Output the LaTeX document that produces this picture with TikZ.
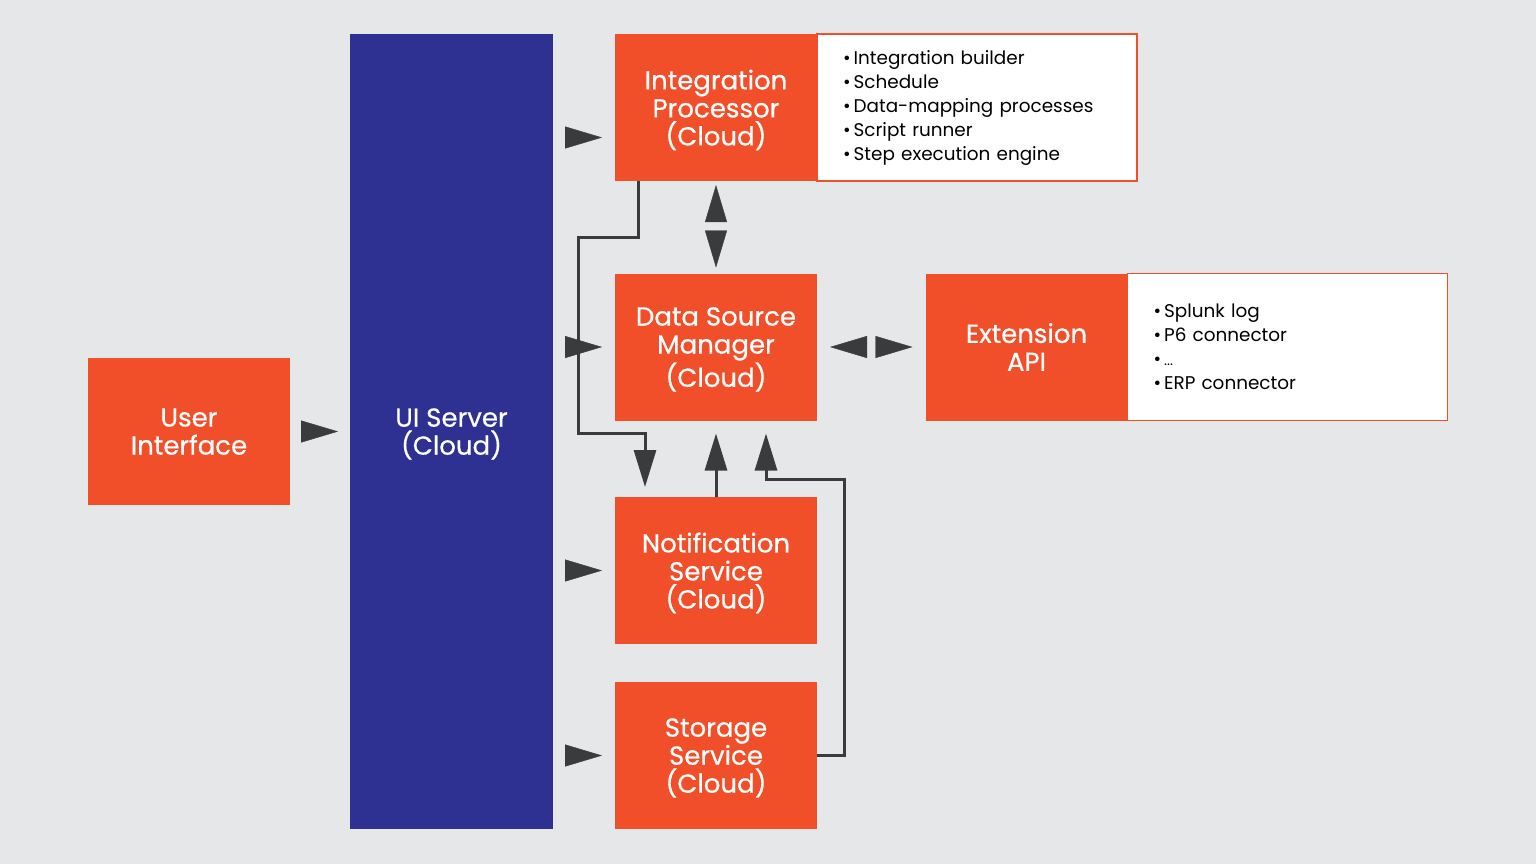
\documentclass[tikz,border=0pt]{standalone}
\usepackage{fontspec}
\setmainfont{Poppins}
\newfontfamily\boxfont{Poppins}[FakeBold=0.6]
\usetikzlibrary{arrows.meta,positioning,calc}
\definecolor{bg}{HTML}{E6E7E9}
\definecolor{orng}{HTML}{F04F2A}
\definecolor{navy}{HTML}{2E3192}
\definecolor{darkln}{HTML}{3A3B3D}
\newcommand{\itm}{\textbullet\,}

\begin{document}
\begin{tikzpicture}[x=0.5pt,y=-0.5pt,
  box/.style={fill=orng,text=white,minimum width=101pt,minimum height=73.5pt,inner sep=0pt,outer sep=0pt,text depth=0pt,align=center,font=\boxfont\fontsize{13}{14}\selectfont},
  lst/.style={fill=white,draw=orng,line width=0.75pt,minimum height=73.5pt,inner xsep=13pt,outer sep=0pt,text width=134pt,align=left,font=\fontsize{9.2}{12}\selectfont},
  tip/.style={darkln,line width=0.2pt,-{Triangle[length=18.5pt,width=11pt]}},
  conn/.style={darkln,line width=1.5pt,-{Triangle[length=18.5pt,width=11pt]}}]
\fill[bg] (0,0) rectangle (1536,864);
% boxes
\node[box] (ui) at (189,431.5) {User\\Interface};
\node[box,fill=navy,minimum width=101.5pt,minimum height=397.5pt] (srv) at (451.5,431.5) {UI Server\\(Cloud)};
\node[box] (ip) at (716,107.5) {Integration\\Processor\\(Cloud)};
\node[lst,right=0pt of ip] (ipl) {\itm Integration builder\\\itm Schedule\\\itm Data-mapping processes\\\itm Script runner\\\itm Step execution engine};
\node[box] (dsm) at (716,347) {Data Source\\Manager\\(Cloud)};
\node[box] (ext) at (1026.5,347) {Extension\\API};
\node[lst,right=0pt of ext] (extl) {\itm Splunk log\\\itm P6 connector\\\itm {\scriptsize...}\\\itm ERP connector};
\node[box] (ns) at (716,570.5) {Notification\\Service\\(Cloud)};
\node[box] (ss) at (716,755.5) {Storage\\Service\\(Cloud)};
% lines
\draw[conn,shorten >=5pt] ([xshift=11.5pt]ip.south west) -- ++(0,56) -- ++(-60,0) -- ++(0,196) -- ++(67,0) -- ([xshift=15pt]ns.north west);
\draw[conn,shorten >=6.5pt] (ns.north) -- (dsm.south);
\draw[conn,shorten >=6.5pt] (ss.east) -- ++(27,0) -- ++(0,-276) -| ([xshift=25pt]dsm.south);
% triangles
\draw[tip,shorten <=6pt,shorten >=6pt] (ui) -- (srv);
\draw[tip,shorten <=6.5pt,shorten >=6.5pt] ([yshift=-15pt]srv.east |- ip.west) -- ([yshift=-15pt]ip.west);
\foreach \n in {dsm,ns,ss}
  \draw[tip,shorten <=6.5pt,shorten >=6.5pt] (srv.east |- \n.west) -- (\n.west);
\coordinate (m1) at ($(ip.south)!0.5!(dsm.north)$);
\draw[tip,shorten <=3pt,shorten >=2pt] (m1) -- (ip.south);
\draw[tip,shorten <=2.5pt,shorten >=3pt] (m1) -- (dsm.north);
\coordinate (m2) at ($(dsm.east)!0.5!(ext.west)$);
\draw[tip,shorten <=2.75pt,shorten >=6.5pt] (m2) -- (dsm.east);
\draw[tip,shorten <=2.75pt,shorten >=6.5pt] (m2) -- (ext.west);
\end{tikzpicture}
\end{document}
